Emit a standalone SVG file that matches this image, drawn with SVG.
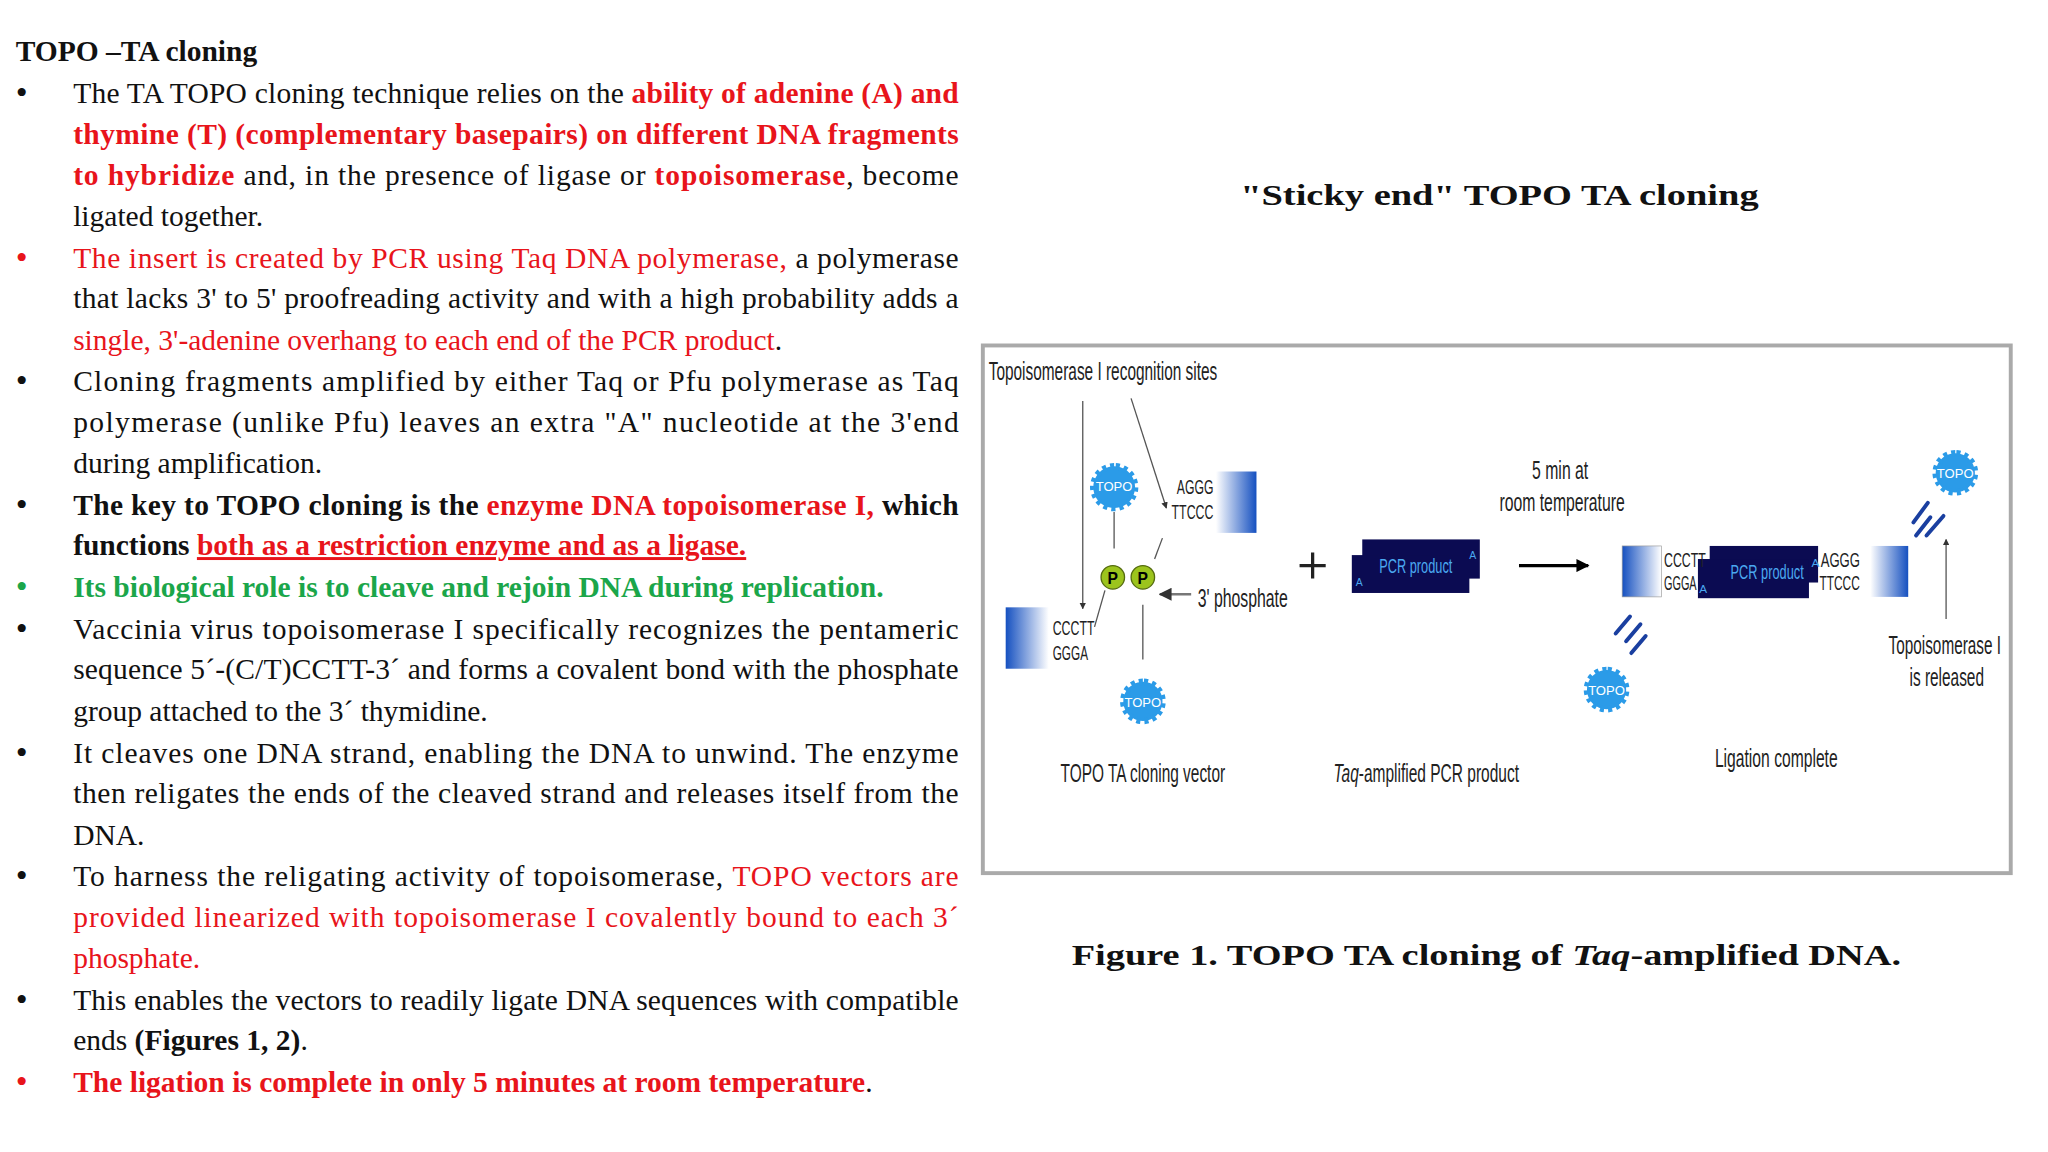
<svg xmlns="http://www.w3.org/2000/svg" width="2048" height="1152" viewBox="0 0 2048 1152">
<defs>
<style>
.t{font-family:"Liberation Serif","Times New Roman",serif;font-size:22.6px;fill:#111}
.r{fill:#e8141b}.g{fill:#1ba64a}.b{font-weight:bold}
.bl{font-size:26px}
.n{font-family:"Liberation Sans",sans-serif;fill:#222;font-size:20px}
.s{font-size:16px}
.topo{fill:#2b9be8;stroke:#2b9be8;stroke-width:5;stroke-dasharray:3 3}
.tt{font-family:"Liberation Sans",sans-serif;font-size:10px;fill:#fff;text-anchor:middle}
.ln{stroke:#555;stroke-width:1;fill:none}
.dark{fill:#0b0b52}
</style>
<linearGradient id="gr" x1="0" x2="1"><stop offset="0" stop-color="#1550c0"/><stop offset="1" stop-color="#fff"/></linearGradient>
<linearGradient id="gl" x1="0" x2="1"><stop offset="0" stop-color="#fff"/><stop offset="1" stop-color="#1550c0"/></linearGradient>
<marker id="ah" viewBox="0 0 10 10" refX="9" refY="5" markerWidth="5" markerHeight="5" orient="auto"><path d="M0,0L10,5L0,10z" fill="#333"/></marker>
<marker id="bh" viewBox="0 0 10 10" refX="9" refY="5" markerWidth="4" markerHeight="4" orient="auto"><path d="M0,0L10,5L0,10z" fill="#000"/></marker>
</defs>
<rect width="2048" height="1152" fill="#fff"/>
<g transform="scale(1.3061)">
<g id="text">
<text class="t b" x="12" y="47">TOPO –TA cloning</text>
<g class="t bl"><text x="12" y="80">•</text><text x="12" y="300">•</text><text x="12" y="395">•</text><text x="12" y="490">•</text><text x="12" y="585">•</text><text x="12" y="679">•</text><text x="12" y="774">•</text></g>
<g class="t r bl"><text x="12" y="206">•</text><text x="12" y="837">•</text></g>
<text class="t g bl" x="12" y="458">•</text>
<text class="t" x="56" y="79" textLength="678" lengthAdjust="spacing">The TA TOPO cloning technique relies on the <tspan class="r b">ability of adenine (A) and</tspan></text>
<text class="t r b" x="56" y="110" textLength="678" lengthAdjust="spacing">thymine (T) (complementary basepairs) on different DNA fragments</text>
<text class="t" x="56" y="142" textLength="678" lengthAdjust="spacing"><tspan class="r b">to hybridize</tspan> and, in the presence of ligase or <tspan class="r b">topoisomerase</tspan>, become</text>
<text class="t" x="56" y="173">ligated together.</text>
<text class="t" x="56" y="205" textLength="678" lengthAdjust="spacing"><tspan class="r">The insert is created by PCR using Taq DNA polymerase,</tspan> a polymerase</text>
<text class="t" x="56" y="236" textLength="678" lengthAdjust="spacing">that lacks 3' to 5' proofreading activity and with a high probability adds a</text>
<text class="t r" x="56" y="268">single, 3'-adenine overhang to each end of the PCR product<tspan fill="#111">.</tspan></text>
<text class="t" x="56" y="299" textLength="678" lengthAdjust="spacing">Cloning fragments amplified by either Taq or Pfu polymerase as Taq</text>
<text class="t" x="56" y="331" textLength="678" lengthAdjust="spacing">polymerase (unlike Pfu) leaves an extra "A" nucleotide at the 3'end</text>
<text class="t" x="56" y="362">during amplification.</text>
<text class="t b" x="56" y="394" textLength="678" lengthAdjust="spacing">The key to TOPO cloning is the <tspan class="r">enzyme DNA topoisomerase I,</tspan> which</text>
<text class="t b" x="56" y="425">functions <tspan class="r" text-decoration="underline">both as a restriction enzyme and as a ligase.</tspan></text>
<text class="t g b" x="56" y="457">Its biological role is to cleave and rejoin DNA during replication.</text>
<text class="t" x="56" y="489" textLength="678" lengthAdjust="spacing">Vaccinia virus topoisomerase I specifically recognizes the pentameric</text>
<text class="t" x="56" y="520" textLength="678" lengthAdjust="spacing">sequence 5´-(C/T)CCTT-3´ and forms a covalent bond with the phosphate</text>
<text class="t" x="56" y="552">group attached to the 3´ thymidine.</text>
<text class="t" x="56" y="584" textLength="678" lengthAdjust="spacing">It cleaves one DNA strand, enabling the DNA to unwind. The enzyme</text>
<text class="t" x="56" y="615" textLength="678" lengthAdjust="spacing">then religates the ends of the cleaved strand and releases itself from the</text>
<text class="t" x="56" y="647">DNA.</text>
<text class="t" x="56" y="678" textLength="678" lengthAdjust="spacing">To harness the religating activity of topoisomerase, <tspan class="r">TOPO vectors are</tspan></text>
<text class="t r" x="56" y="710" textLength="678" lengthAdjust="spacing">provided linearized with topoisomerase I covalently bound to each 3´</text>
<text class="t r" x="56" y="741">phosphate.</text>
<text class="t" x="56" y="773" textLength="678" lengthAdjust="spacing">This enables the vectors to readily ligate DNA sequences with compatible</text>
<text class="t" x="56" y="804">ends <tspan class="b">(Figures 1, 2)</tspan>.</text>
<text class="t r b" x="56" y="836">The ligation is complete in only 5 minutes at room temperature<tspan fill="#111" font-weight="normal">.</tspan></text>
<text class="t b" x="1148" y="157" font-size="32" text-anchor="middle" textLength="397" lengthAdjust="spacingAndGlyphs">"Sticky end" TOPO TA cloning</text>
<text class="t b" x="1138" y="739" font-size="32" text-anchor="middle" textLength="635" lengthAdjust="spacingAndGlyphs">Figure 1. TOPO TA cloning of <tspan font-style="italic">Taq</tspan>-amplified DNA.</text>
</g>
<g id="frame"><rect x="752.5" y="264.5" width="787" height="404" fill="#fff" stroke="#aaa" stroke-width="3"/></g>
<g id="connectors">
<line class="ln" x1="829" y1="307" x2="829" y2="466" marker-end="url(#ah)"/>
<line class="ln" x1="866" y1="305" x2="893" y2="389" marker-end="url(#ah)"/>
<line class="ln" x1="853" y1="392" x2="853" y2="420"/>
<line class="ln" x1="875" y1="463" x2="875" y2="505"/>
<line class="ln" x1="884" y1="428" x2="890" y2="412"/>
<line class="ln" x1="846" y1="452" x2="838" y2="480"/>
<line x1="912" y1="455" x2="888" y2="455" stroke="#777" stroke-width="2" marker-end="url(#ah)"/>
<line x1="1163" y1="433" x2="1216" y2="433" stroke="#000" stroke-width="2.5" marker-end="url(#bh)"/>
<line class="ln" x1="1490" y1="474" x2="1490" y2="413" marker-end="url(#ah)"/>
</g>
<g id="vector">
<text class="n" x="757" y="291" textLength="175" lengthAdjust="spacingAndGlyphs">Topoisomerase I recognition sites</text>
<path class="topo" d="M853,357a16,16 0 1,0 0.1,0z"/><text class="tt" x="853" y="376">TOPO</text>
<path class="topo" d="M875,522a15,15 0 1,0 0.1,0z"/><text class="tt" x="875" y="541">TOPO</text>
<circle cx="852" cy="442" r="9" fill="#9cc41d" stroke="#556b10"/><text x="852" y="447" font-family="Liberation Sans" font-size="12" font-weight="bold" text-anchor="middle">P</text>
<circle cx="875" cy="442" r="9" fill="#9cc41d" stroke="#556b10"/><text x="875" y="447" font-family="Liberation Sans" font-size="12" font-weight="bold" text-anchor="middle">P</text>
<text class="n s" x="901" y="378" textLength="28" lengthAdjust="spacingAndGlyphs">AGGG</text><text class="n s" x="897" y="397" textLength="32" lengthAdjust="spacingAndGlyphs">TTCCC</text>
<rect x="931" y="361" width="31" height="47" fill="url(#gl)"/>
<rect x="770" y="465" width="33" height="47" fill="url(#gr)"/>
<text class="n s" x="806" y="486" textLength="32" lengthAdjust="spacingAndGlyphs">CCCTT</text><text class="n s" x="806" y="505" textLength="27" lengthAdjust="spacingAndGlyphs">GGGA</text>
<text class="n" x="917" y="465" textLength="69" lengthAdjust="spacingAndGlyphs">3' phosphate</text>
<text class="n" x="812" y="599" textLength="126" lengthAdjust="spacingAndGlyphs">TOPO TA cloning vector</text>
</g>
<g id="plus"><path d="M1005,423v20M995,433h20" stroke="#222" stroke-width="2.5"/></g>
<g id="pcr">
<rect class="dark" x="1043" y="413" width="90" height="30"/><rect class="dark" x="1035" y="425" width="90" height="29"/>
<text x="1056" y="439" font-family="Liberation Sans" font-size="15" fill="#4aa8f0" textLength="56" lengthAdjust="spacingAndGlyphs">PCR product</text>
<text x="1038" y="449" font-size="8" font-family="Liberation Sans" fill="#4aa8f0">A</text><text x="1125" y="428" font-size="8" font-family="Liberation Sans" fill="#4aa8f0">A</text>
<text class="n" x="1021" y="599" textLength="142" lengthAdjust="spacingAndGlyphs"><tspan font-style="italic">Taq</tspan>-amplified PCR product</text>
</g>
<g id="step"><text class="n" x="1173" y="367" textLength="43" lengthAdjust="spacingAndGlyphs">5 min at</text><text class="n" x="1148" y="391" textLength="96" lengthAdjust="spacingAndGlyphs">room temperature</text></g>
<g id="ligation">
<rect x="1242" y="418" width="30" height="39" fill="url(#gr)" stroke="#999" stroke-width="0.5"/>
<rect class="dark" x="1309" y="418" width="83" height="28"/><rect class="dark" x="1300" y="428" width="85" height="30"/>
<text class="n s" x="1274" y="434" textLength="32" lengthAdjust="spacingAndGlyphs">CCCTT</text><text class="n s" x="1274" y="452" textLength="25" lengthAdjust="spacingAndGlyphs">GGGA</text>
<text x="1325" y="443" font-family="Liberation Sans" font-size="15" fill="#4aa8f0" textLength="56" lengthAdjust="spacingAndGlyphs">PCR product</text>
<text x="1301" y="454" font-size="9" font-family="Liberation Sans" fill="#4aa8f0">A</text><text x="1387" y="434" font-size="9" font-family="Liberation Sans" fill="#4aa8f0">A</text>
<text class="n s" x="1394" y="434" textLength="30" lengthAdjust="spacingAndGlyphs">AGGG</text><text class="n s" x="1393" y="452" textLength="31" lengthAdjust="spacingAndGlyphs">TTCCC</text>
<rect x="1432" y="418" width="29" height="39" fill="url(#gl)"/>
<g stroke="#1a3fa0" stroke-width="3" stroke-linecap="round">
<line x1="1237" y1="485" x2="1248" y2="472"/><line x1="1245" y1="491" x2="1256" y2="478"/><line x1="1249" y1="500" x2="1260" y2="487"/>
<line x1="1465" y1="400" x2="1476" y2="385"/><line x1="1467" y1="410" x2="1478" y2="396"/><line x1="1475" y1="410" x2="1488" y2="395"/>
</g>
<path class="topo" d="M1230,513a15,15 0 1,0 0.1,0z"/><text class="tt" x="1230" y="532">TOPO</text>
<path class="topo" d="M1497,347a15,15 0 1,0 0.1,0z"/><text class="tt" x="1497" y="366">TOPO</text>
<text class="n" x="1446" y="501" textLength="86" lengthAdjust="spacingAndGlyphs">Topoisomerase I</text><text class="n" x="1462" y="525" textLength="57" lengthAdjust="spacingAndGlyphs">is released</text>
<text class="n" x="1313" y="587" textLength="94" lengthAdjust="spacingAndGlyphs">Ligation complete</text>
</g>
</g>
</svg>
